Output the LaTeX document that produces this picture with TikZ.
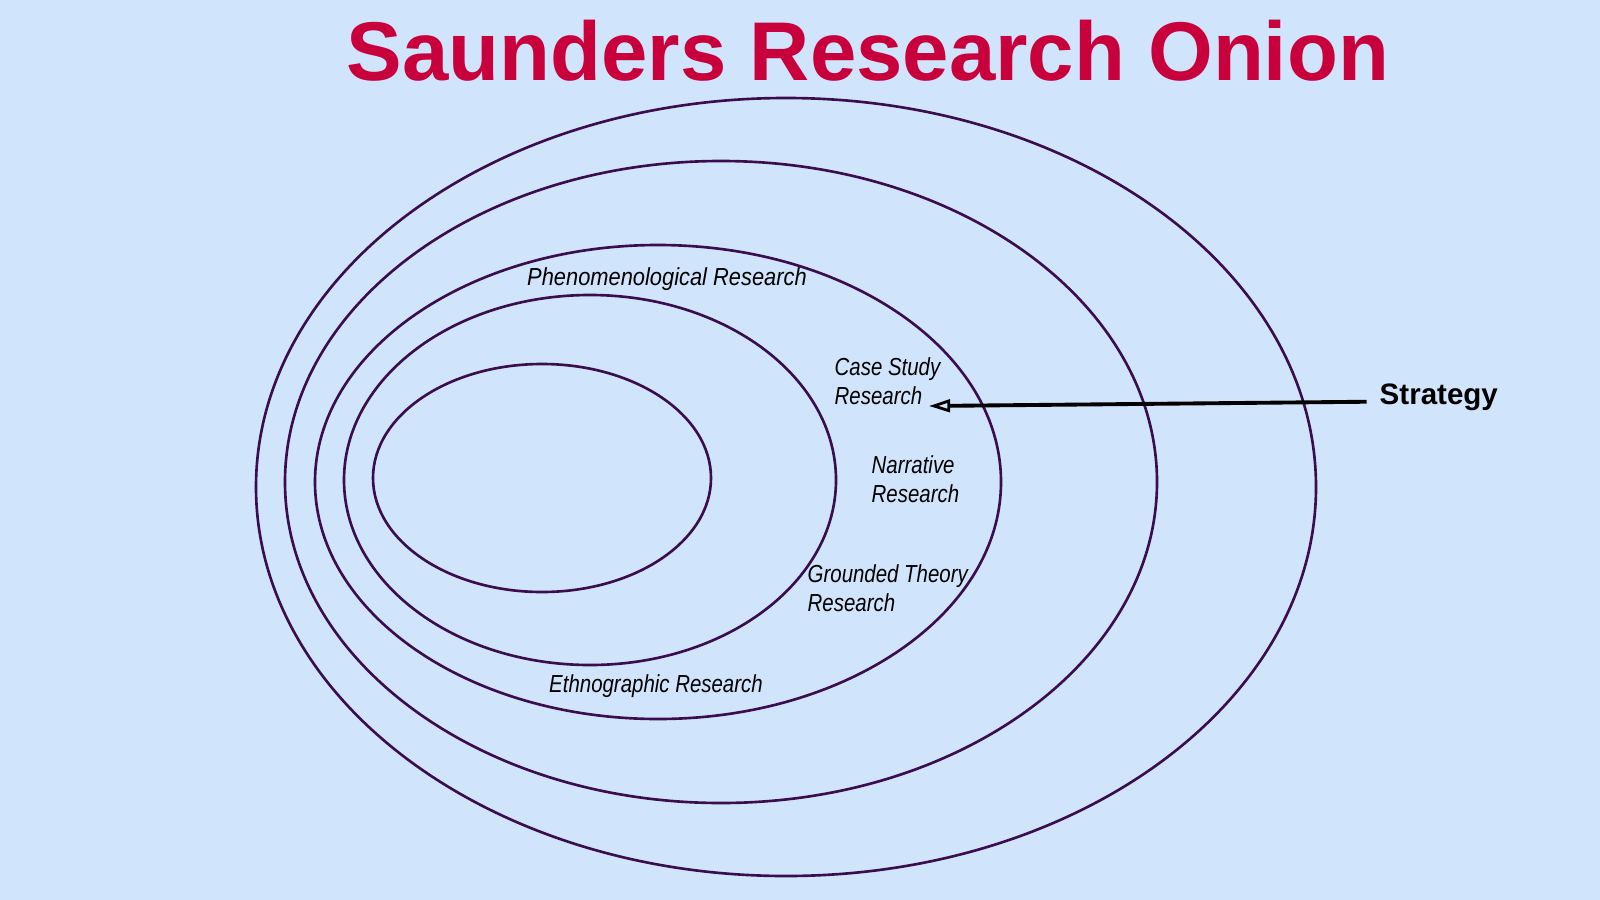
\documentclass[tikz,border=0pt]{standalone}
\usepackage{fontspec}
\setmainfont{Liberation Sans}
\newfontfamily\narrowfont[FakeStretch=0.83]{Liberation Sans}
\usetikzlibrary{arrows.meta}

\definecolor{onionbg}{HTML}{D0E4FC}
\definecolor{onionline}{HTML}{3B0D4E}
\definecolor{titlered}{HTML}{C8003C}

\begin{document}
\begin{tikzpicture}[x=0.01cm, y=-0.01cm, >=Stealth,
    ring/.style={draw=onionline, line width=0.75pt},
    layer/.style={font=\narrowfont\itshape\fontsize{7}{8.4}\selectfont, inner sep=0pt, align=left},
    label/.style={font=\bfseries\fontsize{8.4}{10}\selectfont, inner sep=0pt}]
    % background and page size
    \fill[onionbg] (0,0) rectangle (1600,900);
    \useasboundingbox (0,0) rectangle (1600,900);

    % title
    \node[text=titlered, font=\bfseries\fontsize{23.7}{28}\selectfont] (title) at (868,51) {Saunders Research Onion};

    % the rings, outside in
    \draw[ring] (786,487) ellipse [x radius=530, y radius=389];
    \draw[ring] (721,482) ellipse [x radius=436, y radius=321];
    \draw[ring] (658,482) ellipse [x radius=343, y radius=237];
    \draw[ring] (590,480) ellipse [x radius=246, y radius=185];
    \draw[ring] (542,478) ellipse [x radius=169, y radius=114];

    % strategy layer
    \node[layer, xscale=1.07] (phen) at (667,279) {Phenomenological Research};
    \node[layer, anchor=west] (case) at (834,381) {Case Study\\Research};
    \node[layer, anchor=west] (narr) at (871,479) {Narrative\\Research};
    \node[layer, anchor=west] (grnd) at (807,588) {Grounded Theory\\Research};
    \node[layer] (ethn) at (656,686) {Ethnographic Research};

    \node[label, anchor=base west] (strategy) at (1379,404) {Strategy};
    \coordinate (tip) at (929,406);
    \draw[line width=1.1pt, -{Triangle[open, length=6pt, width=3.6pt, line width=0.8pt]}] ([xshift=-3.5pt, yshift=-1.4pt]strategy.west) -- (tip);
\end{tikzpicture}
\end{document}
